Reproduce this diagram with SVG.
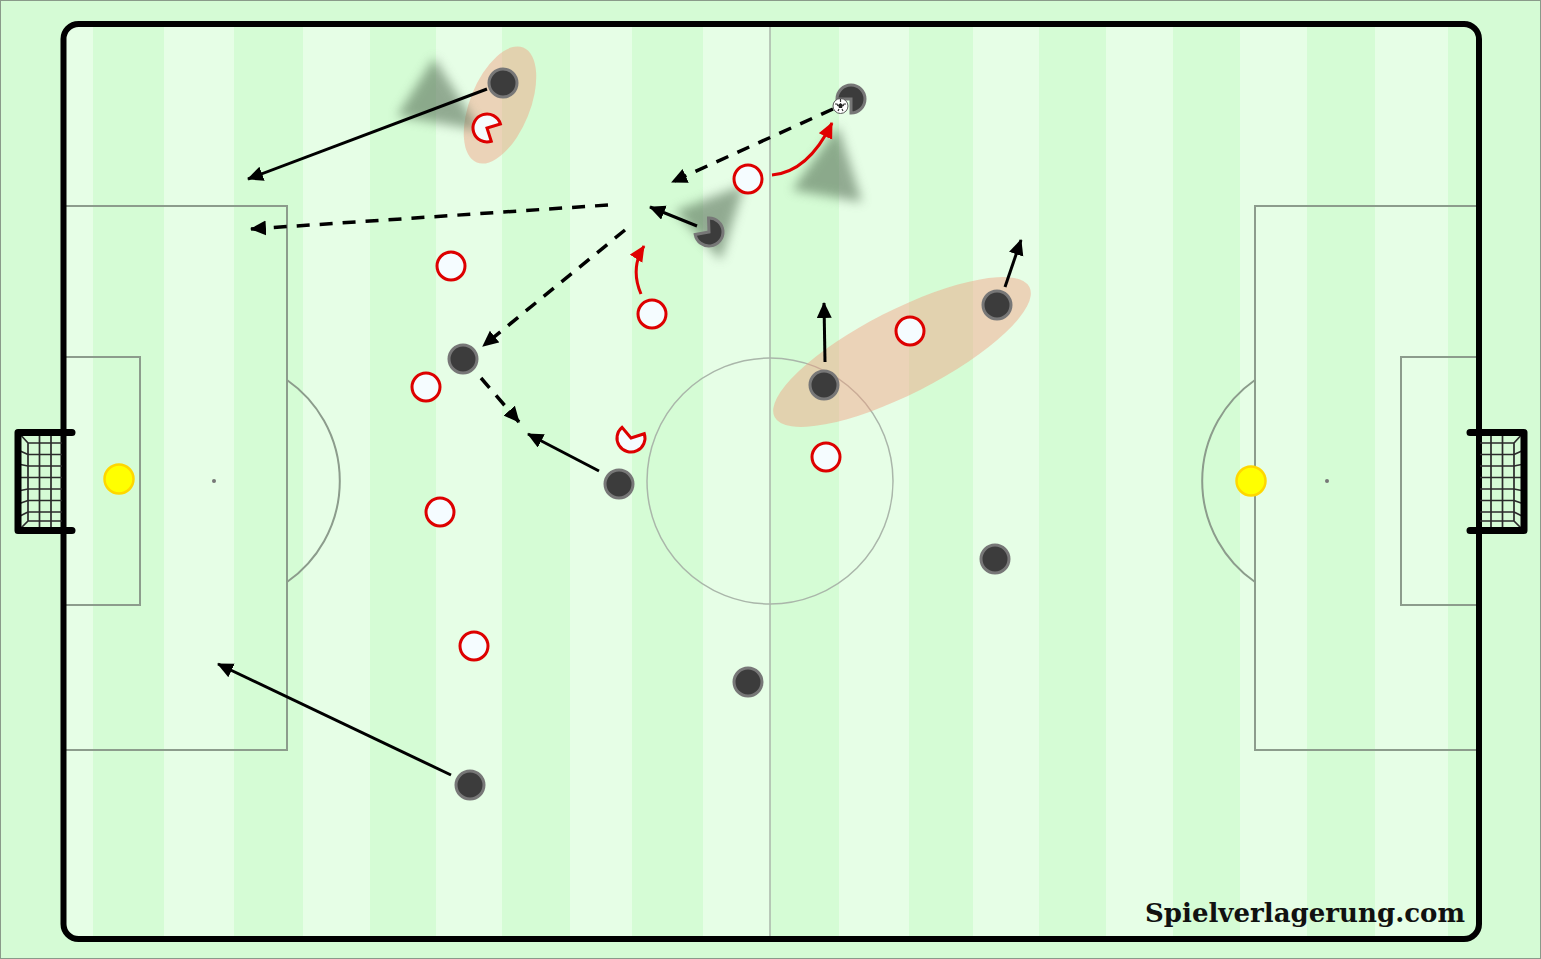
<svg xmlns="http://www.w3.org/2000/svg" width="1541" height="959" viewBox="0 0 1541 959">
<defs>
<style>
.mark{fill:none;stroke:#8c9c8c;stroke-width:2}
.mid{fill:none;stroke:#aab6aa;stroke-width:1.5}
.dark{fill:#3c3c3c;stroke:#777;stroke-width:3}
.red{fill:#f5fcff;stroke:#dd0000;stroke-width:3}
.arr{fill:none;stroke:#000;stroke-width:3;marker-end:url(#ah)}
.dash{fill:none;stroke:#000;stroke-width:3.5;stroke-dasharray:13 10;marker-end:url(#ah)}
.rarr{fill:none;stroke:#e00000;stroke-width:3;marker-end:url(#rah)}
.shadow{fill:#5a735a;opacity:0.6;filter:url(#blur)}
.zone{fill:#f2a080;opacity:0.45}
.net{fill:none;stroke:#2a2a2a;stroke-width:1.7}
.frame{fill:none;stroke:#000;stroke-width:7;stroke-linecap:round;stroke-linejoin:round}
.light{fill:#e6fee6}
</style>
<marker id="ah" markerUnits="userSpaceOnUse" markerWidth="18" markerHeight="16" refX="15" refY="7.5" orient="auto"><path d="M0,0 L16,7.5 L0,15 z" fill="#000"/></marker>
<marker id="rah" markerUnits="userSpaceOnUse" markerWidth="18" markerHeight="16" refX="15" refY="7.5" orient="auto"><path d="M0,0 L16,7.5 L0,15 z" fill="#e00000"/></marker>
<filter id="blur" x="-50%" y="-50%" width="200%" height="200%"><feGaussianBlur stdDeviation="5.5"/></filter>
<clipPath id="pc"><rect x="63.5" y="24" width="1415.5" height="915" rx="15"/></clipPath>
<g id="goalshape">
<path class="net" d="M28,443 V521 M39.5,432 V531 M51,432 V531 M18,432 L28,443 M18,531 L28,521"/>
<path class="net" d="M28,443 H62 M28,454.5 H62 M28,466 H62 M28,477.5 H62 M28,489 H62 M28,500.5 H62 M28,512 H62 M28,521 H62"/>
<path class="net" d="M18,450 L28,454.5 M18,464 L28,466 M18,477.5 L28,477.5 M18,491 L28,489 M18,504 L28,500.5 M18,517 L28,512"/>
<path class="frame" d="M72,432.5 H18 V530.5 H72"/>
</g>
</defs>
<rect x="0" y="0" width="1541" height="959" fill="#d5fbd5" stroke="#8a9a8a" stroke-width="2"/>
<g id="pitch" clip-path="url(#pc)">
<rect x="63.5" y="24" width="1415.5" height="915" fill="#d5fcd5"/>
<rect class="light" x="60" y="24" width="33" height="915"/>
<rect class="light" x="164" y="24" width="70" height="915"/>
<rect class="light" x="303" y="24" width="67" height="915"/>
<rect class="light" x="436" y="24" width="66" height="915"/>
<rect class="light" x="570" y="24" width="62" height="915"/>
<rect class="light" x="703" y="24" width="67" height="915"/>
<rect class="light" x="839" y="24" width="70" height="915"/>
<rect class="light" x="973" y="24" width="66" height="915"/>
<rect class="light" x="1106" y="24" width="67" height="915"/>
<rect class="light" x="1240" y="24" width="67" height="915"/>
<rect class="light" x="1375" y="24" width="73" height="915"/>
</g>
<g id="markings">
<line class="mid" x1="770" y1="24" x2="770" y2="939"/>
<circle class="mid" cx="770" cy="481" r="123" stroke="#9aa89a"/>
<rect class="mark" x="63.5" y="206" width="223.5" height="544"/>
<rect class="mark" x="63.5" y="357" width="76.5" height="248"/>
<path class="mark" d="M287,380 A123,123 0 0 1 287,582"/>
<circle cx="214" cy="481" r="2" fill="#777"/>
<rect class="mark" x="1255" y="206" width="224" height="544"/>
<rect class="mark" x="1401" y="357" width="78" height="248"/>
<path class="mark" d="M1255,380 A123,123 0 0 0 1255,582"/>
<circle cx="1327" cy="481" r="2" fill="#777"/>
</g>
<rect id="border" x="63.5" y="24" width="1415.5" height="915" rx="15" fill="none" stroke="#000" stroke-width="6"/>
<g id="goal-left"><use href="#goalshape"/></g>
<g id="goal-right"><use href="#goalshape" transform="translate(1542,0) scale(-1,1)"/></g>
<g id="zones">
<ellipse class="zone" cx="500" cy="105" rx="30" ry="62" transform="rotate(22 500 105)"/>
<ellipse class="zone" cx="902" cy="352" rx="143" ry="42" transform="rotate(-27 902 352)"/>
</g>
<g id="shadows">
<polygon class="shadow" points="434,58 397,116 480,130"/>
<polygon class="shadow" points="675,211 744,185 721,260"/>
<polygon class="shadow" points="792,190 862,202 838,126"/>
</g>
<g id="connectors">
<line class="arr" x1="487" y1="89" x2="248" y2="179"/>
<line class="dash" x1="833" y1="109" x2="672" y2="182"/>
<line class="dash" x1="608" y1="205" x2="251" y2="229"/>
<line class="arr" x1="697" y1="226" x2="650" y2="207"/>
<line class="dash" x1="625" y1="230" x2="483" y2="346"/>
<line class="dash" x1="481" y1="378" x2="519" y2="422"/>
<line class="arr" x1="599" y1="471" x2="528" y2="434"/>
<line class="arr" x1="451" y1="775" x2="218" y2="664"/>
<line class="arr" x1="825" y1="362" x2="824" y2="303"/>
<line class="arr" x1="1005" y1="287" x2="1021" y2="240"/>
<path class="rarr" d="M772,175 Q808,172 832,123"/>
<path class="rarr" d="M641,294 Q630,268 644,246"/>
</g>
<g id="keeper-left"><circle cx="119" cy="479" r="14.5" fill="#ffff00" stroke="#ffd700" stroke-width="2.5"/></g>
<g id="keeper-right"><circle cx="1251" cy="481" r="14.5" fill="#ffff00" stroke="#ffd700" stroke-width="2.5"/></g>
<g id="dark-players">
<circle class="dark" cx="503" cy="83" r="14"/>
<path class="dark" d="M851,99 L837,99 A14,14 0 1 1 851,113 Z"/>
<path class="dark" d="M709,232 L708.5,218 A14,14 0 1 1 695.2,234.4 Z"/>
<circle class="dark" cx="463" cy="359" r="14"/>
<circle class="dark" cx="619" cy="484" r="14"/>
<circle class="dark" cx="824" cy="385" r="14"/>
<circle class="dark" cx="997" cy="305" r="14"/>
<circle class="dark" cx="995" cy="559" r="14"/>
<circle class="dark" cx="748" cy="682" r="14"/>
<circle class="dark" cx="470" cy="785" r="14"/>
</g>
<g id="ball">
<circle cx="840.5" cy="106" r="7.5" fill="#fff" stroke="#555" stroke-width="1"/>
<polygon points="840.5,103 843,105 842,108 839,108 838,105" fill="#222"/>
<path d="M835,104 l2,0 l1,2 M846,104 l-2,0 l-1,2 M838,111 l1,-2 M843,111 l-1,-2 M840.5,99 v3" stroke="#333" stroke-width="1.2" fill="none"/>
</g>
<g id="red-players">
<path class="red" d="M487,128 L491.3,141.3 A14,14 0 1 1 500.4,123.9 Z"/>
<circle class="red" cx="748" cy="179" r="14"/>
<circle class="red" cx="451" cy="266" r="14"/>
<circle class="red" cx="652" cy="314" r="14"/>
<circle class="red" cx="426" cy="387" r="14"/>
<path class="red" d="M631,438 L644.3,433.7 A14,14 0 1 1 622,427.3 Z"/>
<circle class="red" cx="440" cy="512" r="14"/>
<circle class="red" cx="474" cy="646" r="14"/>
<circle class="red" cx="910" cy="331" r="14"/>
<circle class="red" cx="826" cy="457" r="14"/>
</g>
<text id="credit" x="1465" y="922" text-anchor="end" font-family="'DejaVu Serif', 'Liberation Serif', serif" font-weight="bold" font-size="26.5" textLength="320" lengthAdjust="spacingAndGlyphs" fill="#111">Spielverlagerung.com</text>
</svg>
